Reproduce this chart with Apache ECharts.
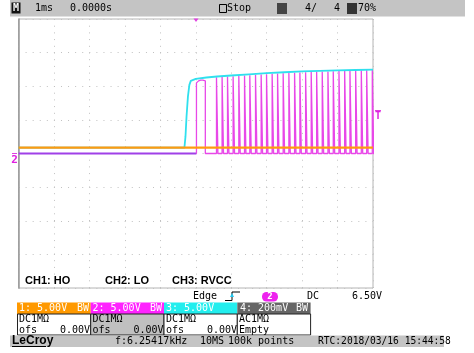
<!DOCTYPE html>
<html><head><meta charset="utf-8">
<script src="https://cdn.jsdelivr.net/npm/echarts@6/dist/echarts.min.js"></script>
<style>html,body{margin:0;padding:0;background:#fff}#c{width:474px;height:353px}</style>
</head><body><div id="c"></div>
<script>
// time axis in ms (1 ms/div), volts (5 V/div)
const timeRange = [-5, 5];
const voltRange = [-20, 20];

// CH1: HO (orange)
const hoTime = [-5, 5];
const hoVolt = [0.86, 0.86];

// CH2: LO before trigger (violet)
const loPreTime = [-5, 0.02];
const loPreVolt = [0, 0];

// CH2: LO first long pulse after trigger
const loStartTime = [0.02, 0.02, 0.08, 0.14, 0.2, 0.27, 0.27];
const loStartVolt = [0, 10.5, 10.8, 10.9, 10.9, 10.8, 0];

// CH2: LO switching pulses
const pulseTimes = [0.585, 0.743, 0.896, 1.054, 1.215, 1.376, 1.525, 1.686, 1.845, 1.997,
  2.155, 2.308, 2.466, 2.627, 2.788, 2.938, 3.099, 3.257, 3.410, 3.568,
  3.729, 3.879, 4.040, 4.201, 4.350, 4.511, 4.670, 4.822, 4.980];
const pulseTops = [11.35, 11.4, 11.45, 11.5, 11.55, 11.6, 11.65, 11.7, 11.75, 11.8,
  11.85, 11.88, 11.92, 11.96, 12.0, 12.05, 12.08, 12.12, 12.15, 12.18,
  12.2, 12.23, 12.26, 12.28, 12.3, 12.33, 12.35, 12.37, 12.4];
const pulseWidthMs = 0.04;
const loEndTime = 5;

// CH3: RVCC (cyan)
const rvccTime = [-5, -0.32, -0.29, -0.26, -0.22, -0.18, -0.14, -0.1, 0.0, 0.3, 0.6, 1.0, 1.5, 2.0, 2.5, 3.0, 3.5, 4.0, 4.5, 5.0];
const rvccVolt = [0.86, 0.86, 2.5, 5.5, 8.5, 10.2, 10.8, 11.0, 11.1, 11.3, 11.45, 11.6, 11.78, 11.95, 12.08, 12.2, 12.28, 12.35, 12.42, 12.47];

const zip = (a, b) => a.map((v, i) => [v, b[i]]);
const loPost = zip(loStartTime, loStartVolt);
pulseTimes.forEach((t, i) => {
  loPost.push([t, 0], [t, pulseTops[i]], [t + pulseWidthMs, pulseTops[i]], [t + pulseWidthMs, 0]);
});
loPost.push([loEndTime, 0]);

const MONO = 'DejaVu Sans Mono';
function txt(text, x, y, opts) {
  opts = opts || {};
  return {
    type: 'text', z: 100,
    style: {
      text: text, x: x, y: y,
      fill: opts.fill || '#000',
      font: (opts.weight || 'normal') + ' ' + (opts.size || 10) + 'px ' + (opts.family || MONO),
      textAlign: opts.align || 'left', align: opts.align || 'left',
      textVerticalAlign: 'middle', verticalAlign: 'middle'
    }
  };
}
function rect(x, y, w, h, fill, stroke) {
  return { type: 'rect', z: 90, shape: { x: x, y: y, width: w, height: h },
    style: { fill: fill || 'none', stroke: stroke || null, lineWidth: 1 } };
}
function line(x1, y1, x2, y2, color, w) {
  return { type: 'line', z: 95, shape: { x1: x1, y1: y1, x2: x2, y2: y2 },
    style: { stroke: color, lineWidth: w || 1 } };
}

const graphics = [
  // top status bar
  rect(10, 0, 455, 16.5, '#c4c4c4'),
  rect(11.5, 2.5, 9, 11, '#111'),
  txt('M', 16, 8.5, { fill: '#fff', size: 10, weight: 'bold', align: 'center' }),
  txt('1ms', 35, 8.5),
  txt('0.0000s', 70, 8.5),
  rect(219.5, 4.5, 7, 8, 'none', '#000'),
  txt('Stop', 227, 8.5),
  rect(277, 3, 10, 11, '#444'),
  txt('4/', 305, 8.5),
  txt('4', 334, 8.5),
  rect(347, 3, 10, 11, '#333'),
  txt('70%', 358, 8.5),
  // markers
  { type: 'polygon', z: 95, shape: { points: [[193.5, 18.5], [198.5, 18.5], [196, 22]] }, style: { fill: '#e040e0' } },
  line(12, 153.5, 17, 153.5, '#e040e0', 1),
  txt('2', 14.5, 160, { fill: '#e020e0', size: 11, weight: 'bold', align: 'center' }),
  line(375, 110.5, 381, 110.5, '#e040e0', 1),
  txt('T', 378, 116.5, { fill: '#e020e0', size: 10, weight: 'bold', align: 'center' }),
  // channel labels
  txt('CH1: HO', 25, 281, { family: 'Liberation Sans', weight: 'bold', size: 11 }),
  txt('CH2: LO', 105, 281, { family: 'Liberation Sans', weight: 'bold', size: 11 }),
  txt('CH3: RVCC', 172, 281, { family: 'Liberation Sans', weight: 'bold', size: 11 }),
  // trigger info
  txt('Edge', 193, 296.5),
  line(225, 300.5, 232, 300.5, '#000', 1),
  line(232, 292, 232, 300.5, '#000', 1),
  line(232, 292, 240, 292, '#000', 1),
  { type: 'polygon', z: 96, shape: { points: [[230, 297], [234, 297], [232, 293]] }, style: { fill: '#22c8f0' } },
  { type: 'rect', z: 90, shape: { x: 262, y: 292, width: 16, height: 9.5, r: 4.5 }, style: { fill: '#ee22ee' } },
  txt('2', 270, 297, { fill: '#fff', size: 9, weight: 'bold', align: 'center' }),
  txt('DC', 307, 296.5),
  txt('6.50V', 352, 296.5),
  // channel boxes
  rect(17, 302.5, 73.7, 11.5, '#ff9900'),
  rect(90.7, 302.5, 73.3, 11.5, '#ff22ff'),
  rect(164, 302.5, 73.3, 11.5, '#22eeee'),
  rect(237.3, 302.5, 73.3, 11.5, '#666666'),
  rect(17.5, 314, 73.2, 21, '#fff', '#222'),
  rect(90.7, 314, 73.3, 21, '#c0c0c0', '#222'),
  rect(164, 314, 73.3, 21, '#fff', '#222'),
  rect(237.3, 314, 73.3, 21, '#fff', '#222'),
  txt('1: 5.00V', 19, 308.5, { fill: '#fff' }),
  txt('BW', 77, 308.5, { fill: '#fff' }),
  txt('2: 5.00V', 92.5, 308.5, { fill: '#fff' }),
  txt('BW', 150, 308.5, { fill: '#fff' }),
  txt('3: 5.00V', 166, 308.5, { fill: '#fff' }),
  txt('4: 200mV', 240, 308.5, { fill: '#fff' }),
  txt('BW', 296, 308.5, { fill: '#fff' }),
  txt('DC1M\u03A9', 19, 319.5),
  txt('ofs', 19, 330),
  txt('0.00V', 90, 330, { align: 'right' }),
  txt('DC1M\u03A9', 92.5, 319.5),
  txt('ofs', 92.5, 330),
  txt('0.00V', 163.5, 330, { align: 'right' }),
  txt('DC1M\u03A9', 166, 319.5),
  txt('ofs', 166, 330),
  txt('0.00V', 237, 330, { align: 'right' }),
  txt('AC1M\u03A9', 239, 319.5),
  txt('Empty', 239, 330),
  // bottom status bar
  rect(10, 335.5, 434, 11.5, '#c4c4c4'),
  txt('LeCroy', 12, 341, { family: 'Liberation Sans', size: 12, weight: 'bold' }),
  line(12, 346.5, 46, 346.5, '#000', 1),
  txt('f:6.25417kHz', 115, 341),
  txt('10MS', 200, 341),
  txt('100k points', 228, 341),
  txt('RTC:2018/03/16 15:44:58', 318, 341, { size: 9.6 })
];

const chart = echarts.init(document.getElementById('c'), null, { renderer: 'canvas' });
chart.setOption({
  animation: false,
  backgroundColor: '#fff',
  grid: { left: 18.5, top: 19, width: 354.5, height: 269, show: true, borderColor: '#b4b4b4', borderWidth: 1, containLabel: false },
  xAxis: {
    type: 'value', min: timeRange[0], max: timeRange[1], interval: 1,
    axisLabel: { show: false }, axisTick: { show: false }, axisLine: { show: false },
    splitLine: { show: true, lineStyle: { color: '#c0c0c0', width: 1, type: [1, 5.7] } }
  },
  yAxis: {
    type: 'value', min: voltRange[0], max: voltRange[1], interval: 5,
    axisLabel: { show: false }, axisTick: { show: false },
    axisLine: { show: true, onZero: false, lineStyle: { color: '#999', width: 1.5 } },
    splitLine: { show: true, lineStyle: { color: '#c0c0c0', width: 1, type: [1, 6.08] } }
  },
  series: [
    { name: 'LO pre', type: 'line', data: zip(loPreTime, loPreVolt), symbol: 'none',
      lineStyle: { color: '#a040e8', width: 1.8 }, z: 2 },
    { name: 'LO', type: 'line', data: loPost, symbol: 'none',
      lineStyle: { color: '#e848e8', width: 1.3 }, z: 3 },
    { name: 'RVCC', type: 'line', data: zip(rvccTime, rvccVolt), symbol: 'none',
      lineStyle: { color: '#30e0ee', width: 1.8 }, z: 4 },
    { name: 'HO', type: 'line', data: zip(hoTime, hoVolt), symbol: 'none',
      lineStyle: { color: '#ff9a10', width: 2.2 }, z: 5 }
  ],
  graphic: graphics
});
</script>
</body></html>
